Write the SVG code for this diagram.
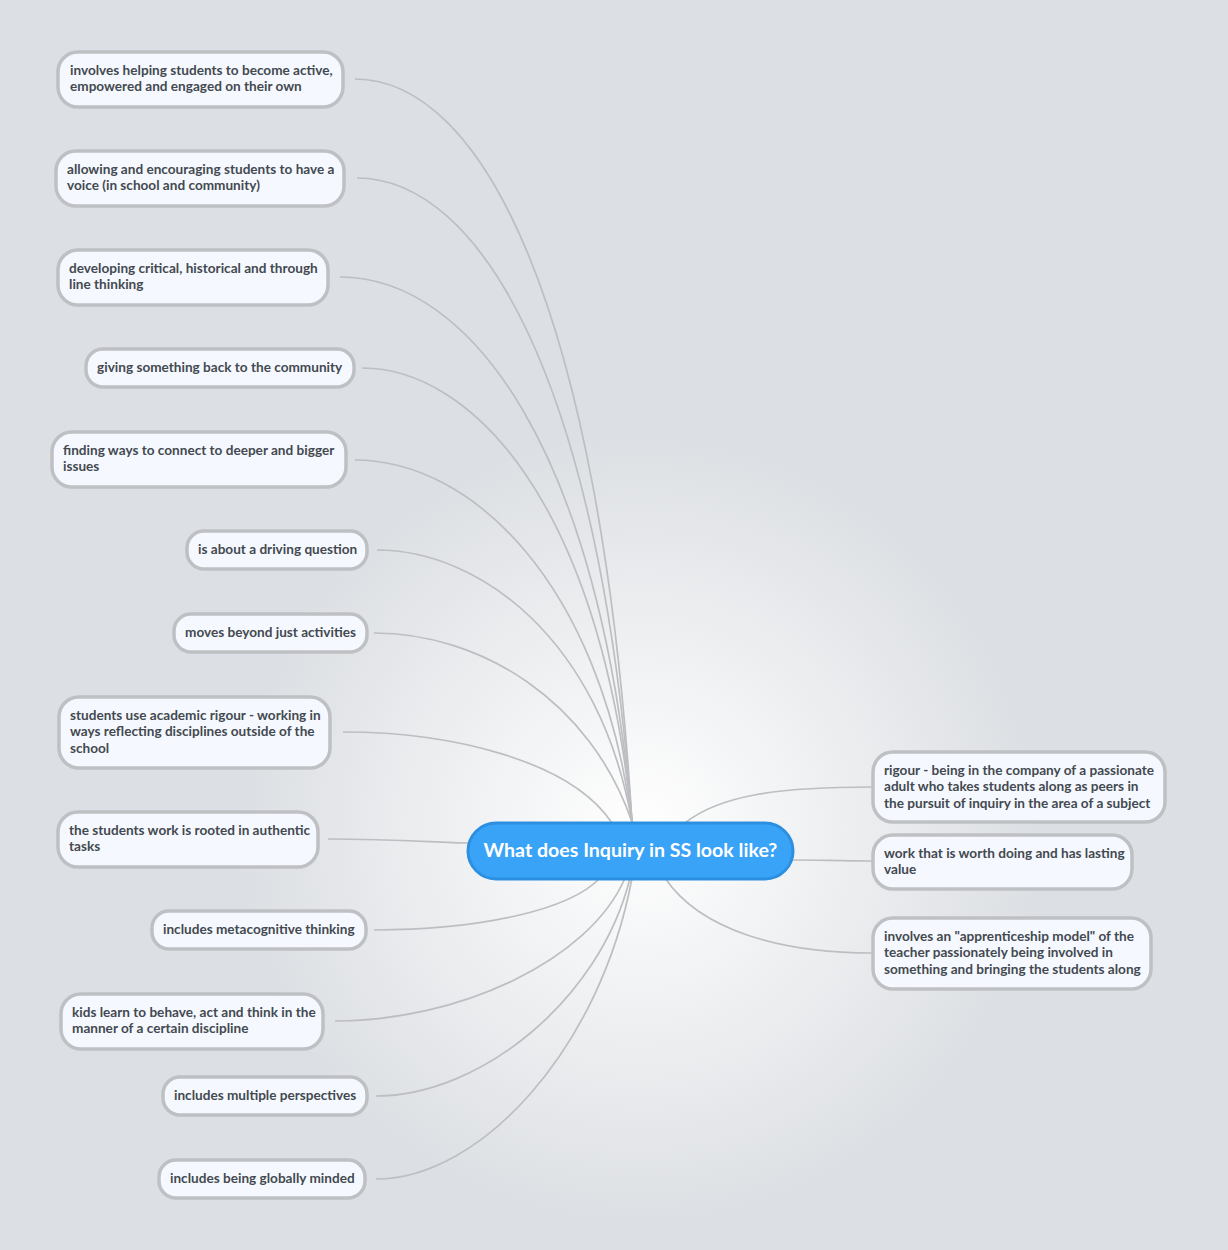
<svg xmlns="http://www.w3.org/2000/svg" width="1228" height="1250" viewBox="0 0 1228 1250">
<defs>
<radialGradient id="bg" cx="640" cy="830" r="400" gradientUnits="userSpaceOnUse">
<stop offset="0" stop-color="#ffffff"/><stop offset="1" stop-color="#dcdfe3"/>
</radialGradient>
<style>
.n rect{fill:#f5f9ff;stroke:#bfc0c3;stroke-width:3.5}
.n text{font-family:Lato,"Open Sans",sans-serif;font-weight:bold;font-size:13.6px;fill:#444950}
.c path{fill:none;stroke:#bdbec1;stroke-width:1.7}
</style>
</defs>
<rect width="1228" height="1250" fill="url(#bg)"/>
<g class="c">
<path d="M355,79 C480,79 600,300 632,822"/>
<path d="M357,178 C480,178 600,380 632,822"/>
<path d="M340,277 C470,277 600,450 632,822"/>
<path d="M362,368 C470,368 600,500 632,822"/>
<path d="M355,460 C470,460 600,580 632,822"/>
<path d="M377,550 C480,550 600,640 632,822"/>
<path d="M374,633 C480,633 590,700 632,822"/>
<path d="M343,732 C450,732 570,760 612,823"/>
<path d="M328,839 C400,839 440,843 468,843"/>
<path d="M374,930 C480,930 570,910 600,878"/>
<path d="M335,1021 C460,1021 590,960 625,878"/>
<path d="M376,1096 C480,1096 600,1000 630,878"/>
<path d="M376,1179 C480,1179 600,1050 632,878"/>
<path d="M872,787 C780,787 720,795 685,823"/>
<path d="M872,861 C840,861 820,860 793,860"/>
<path d="M872,953 C780,953 700,930 665,878"/>
</g>
<g id="center">
<rect x="468" y="823" width="325" height="56" rx="28" fill="#38a3f7" stroke="#2d8fe0" stroke-width="3"/>
<text x="630.5" y="857" text-anchor="middle" font-family="Lato,'Open Sans',sans-serif" font-weight="bold" font-size="19.6" fill="#ffffff">What does Inquiry in SS look like?</text>
</g>
<g id="n1" class="n"><rect x="58" y="52" width="285" height="55" rx="20"/><text x="70" y="75">involves helping students to become active,</text><text x="70" y="91">empowered and engaged on their own</text></g>
<g id="n2" class="n"><rect x="56" y="151" width="288" height="55" rx="20"/><text x="67" y="174">allowing and encouraging students to have a</text><text x="67" y="190">voice (in school and community)</text></g>
<g id="n3" class="n"><rect x="58" y="250" width="270" height="55" rx="20"/><text x="69" y="273">developing critical, historical and through</text><text x="69" y="289">line thinking</text></g>
<g id="n4" class="n"><rect x="86" y="349" width="268" height="38" rx="17"/><text x="97" y="372">giving something back to the community</text></g>
<g id="n5" class="n"><rect x="52" y="432" width="294" height="55" rx="20"/><text x="63" y="455">finding ways to connect to deeper and bigger</text><text x="63" y="471">issues</text></g>
<g id="n6" class="n"><rect x="187" y="531" width="180" height="38" rx="17"/><text x="198" y="554">is about a driving question</text></g>
<g id="n7" class="n"><rect x="174" y="614" width="193" height="38" rx="17"/><text x="185" y="637">moves beyond just activities</text></g>
<g id="n8" class="n"><rect x="59" y="697" width="271" height="71" rx="20"/><text x="70" y="720">students use academic rigour - working in</text><text x="70" y="736">ways reflecting disciplines outside of the</text><text x="70" y="753">school</text></g>
<g id="n9" class="n"><rect x="58" y="812" width="260" height="55" rx="20"/><text x="69" y="835">the students work is rooted in authentic</text><text x="69" y="851">tasks</text></g>
<g id="n10" class="n"><rect x="152" y="911" width="214" height="38" rx="17"/><text x="163" y="934">includes metacognitive thinking</text></g>
<g id="n11" class="n"><rect x="61" y="994" width="262" height="55" rx="20"/><text x="72" y="1017">kids learn to behave, act and think in the</text><text x="72" y="1033">manner of a certain discipline</text></g>
<g id="n12" class="n"><rect x="163" y="1077" width="204" height="38" rx="17"/><text x="174" y="1100">includes multiple perspectives</text></g>
<g id="n13" class="n"><rect x="159" y="1160" width="206" height="38" rx="17"/><text x="170" y="1183">includes being globally minded</text></g>
<g id="r1" class="n"><rect x="873" y="752" width="292" height="70" rx="20"/><text x="884" y="775">rigour - being in the company of a passionate</text><text x="884" y="791">adult who takes students along as peers in</text><text x="884" y="808">the pursuit of inquiry in the area of a subject</text></g>
<g id="r2" class="n"><rect x="873" y="835" width="259" height="54" rx="20"/><text x="884" y="858">work that is worth doing and has lasting</text><text x="884" y="874">value</text></g>
<g id="r3" class="n"><rect x="873" y="918" width="278" height="71" rx="20"/><text x="884" y="941">involves an "apprenticeship model" of the</text><text x="884" y="957">teacher passionately being involved in</text><text x="884" y="974">something and bringing the students along</text></g>
</svg>
